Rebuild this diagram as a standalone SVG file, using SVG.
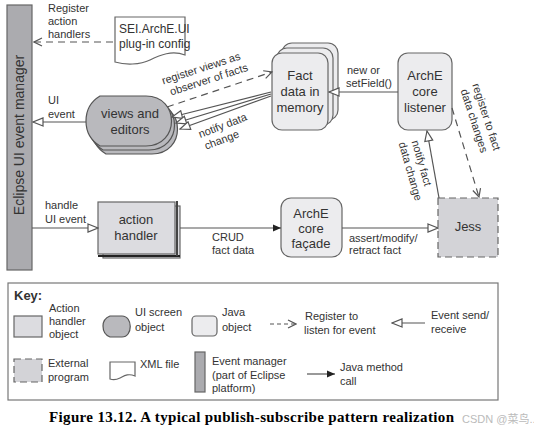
<svg xmlns="http://www.w3.org/2000/svg" width="534" height="435" viewBox="0 0 534 435">
<defs>
<style>
text{font-family:"Liberation Sans",Arial,sans-serif;fill:#333;}
.lbl{font-size:11px;}
.node{font-size:13px;text-anchor:middle;}
.key{font-size:11px;}
.ln{stroke:#555;stroke-width:1.2;fill:none;}
.dash{stroke:#555;stroke-width:1.2;fill:none;stroke-dasharray:7,5;}
.bar{fill:#ababaf;stroke:#666;stroke-width:1.2;}
.java{fill:#ececee;stroke:#666;stroke-width:1.2;}
.act{fill:#dcdce0;stroke:#666;stroke-width:1.2;}
.ui{fill:#b9b9bd;stroke:#555;stroke-width:1.2;}
.ext{fill:#d3d3d7;stroke:#666;stroke-width:1.2;stroke-dasharray:7,4;}
</style>
<marker id="tri" markerWidth="12" markerHeight="10" refX="11" refY="5" orient="auto" markerUnits="userSpaceOnUse">
<path d="M1,1 L11,5 L1,9 Z" fill="#fff" stroke="#555" stroke-width="1.2"/>
</marker>
<marker id="chev" markerWidth="10" markerHeight="10" refX="9" refY="5" orient="auto" markerUnits="userSpaceOnUse">
<path d="M1,1 L9,5 L1,9" fill="none" stroke="#555" stroke-width="1.2"/>
</marker>
<marker id="fill" markerWidth="10" markerHeight="8" refX="9" refY="4" orient="auto" markerUnits="userSpaceOnUse">
<path d="M1,0.5 L9,4 L1,7.5 Z" fill="#222"/>
</marker>
</defs>
<rect width="534" height="435" fill="#fff"/>

<g id="eventManager">
<rect class="bar" x="7" y="5" width="25" height="265"/>
<text class="node" transform="translate(24,135) rotate(-90)" style="font-size:14px">Eclipse UI event manager</text>
</g>

<g id="xmlConfig">
<path class="java" style="fill:#fff" d="M115,17 H185 V55 C172,50 160,55 150,60 C140,65 125,65 115,62 Z"/>
<text class="lbl" x="119" y="33" style="font-size:12px">SEI.ArchE.UI</text>
<text class="lbl" x="119" y="48" style="font-size:12px">plug-in config</text>
</g>

<g id="viewsEditors">
<path class="ui" transform="translate(6,8)" d="M100,96 H146 C180,96 180,146 146,146 H100 C90,140 86,130 86,121 C86,112 90,102 100,96 Z"/>
<path class="ui" transform="translate(3,4)" d="M100,96 H146 C180,96 180,146 146,146 H100 C90,140 86,130 86,121 C86,112 90,102 100,96 Z"/>
<path class="ui" d="M100,96 H146 C180,96 180,146 146,146 H100 C90,140 86,130 86,121 C86,112 90,102 100,96 Z"/>
<text class="node" x="130" y="118">views and</text>
<text class="node" x="130" y="134">editors</text>
</g>

<g id="factData">
<rect class="java" x="282" y="43" width="56" height="77" rx="10"/>
<rect class="java" x="277" y="48" width="56" height="77" rx="10"/>
<rect class="java" x="272" y="53" width="56" height="77" rx="10"/>
<text class="node" x="300" y="80">Fact</text>
<text class="node" x="300" y="96">data in</text>
<text class="node" x="300" y="112">memory</text>
</g>

<g id="coreListener">
<rect class="java" x="398" y="53" width="54" height="77" rx="10"/>
<text class="node" x="425" y="80">ArchE</text>
<text class="node" x="425" y="96">core</text>
<text class="node" x="425" y="112">listener</text>
</g>

<g id="actionHandler">
<rect class="act" x="103" y="206" width="77" height="52"/>
<rect class="act" x="98" y="202" width="77" height="52"/>
<path d="M98,256 H180" stroke="#222" stroke-width="2.2"/>
<path d="M177,201 V256" stroke="#444" stroke-width="2"/>
<text class="node" x="136" y="224">action</text>
<text class="node" x="136" y="240">handler</text>
</g>

<g id="coreFacade">
<rect class="java" x="281" y="198" width="61" height="59" rx="10"/>
<text class="node" x="311" y="218">ArchE</text>
<text class="node" x="311" y="233">core</text>
<text class="node" x="311" y="248">façade</text>
</g>

<g id="jess">
<rect class="ext" x="438" y="198" width="60" height="59"/>
<text class="node" x="468" y="231">Jess</text>
</g>

<g id="connectors">
<line class="dash" x1="113" y1="42" x2="34" y2="42" marker-end="url(#chev)"/>
<line class="ln" x1="86" y1="122" x2="33" y2="122" marker-end="url(#tri)"/>
<line class="ln" x1="32" y1="228" x2="98" y2="228" marker-end="url(#tri)"/>
<line class="ln" x1="180" y1="228" x2="281" y2="228" marker-end="url(#fill)"/>
<line class="ln" x1="342" y1="228" x2="438" y2="228" marker-end="url(#tri)"/>
<line class="ln" x1="398" y1="92" x2="329" y2="92" marker-end="url(#tri)"/>
<line class="dash" x1="167" y1="107" x2="272" y2="72" marker-end="url(#chev)"/>
<line class="ln" x1="271" y1="92" x2="172" y2="117" marker-end="url(#tri)"/>
<line class="ln" x1="271" y1="94" x2="176" y2="123" marker-end="url(#tri)"/>
<line class="ln" x1="271" y1="96" x2="180" y2="129" marker-end="url(#tri)"/>
<line class="ln" x1="439" y1="198" x2="427" y2="131" marker-end="url(#tri)"/>
<line class="dash" x1="452" y1="108" x2="479" y2="197" marker-end="url(#chev)"/>
</g>

<g id="labels">
<text class="lbl" x="48" y="12">Register</text>
<text class="lbl" x="48" y="25">action</text>
<text class="lbl" x="48" y="38">handlers</text>
<text class="lbl" x="48" y="104">UI</text>
<text class="lbl" x="48" y="118">event</text>
<text class="lbl" x="45" y="209">handle</text>
<text class="lbl" x="45" y="223">UI event</text>
<text class="lbl" x="212" y="241">CRUD</text>
<text class="lbl" x="212" y="254">fact data</text>
<text class="lbl" x="349" y="242">assert/modify/</text>
<text class="lbl" x="349" y="254">retract fact</text>
<text class="lbl" x="347" y="74">new or</text>
<text class="lbl" x="346" y="87">setField()</text>
<g transform="translate(210,83) rotate(-18)">
<text class="lbl" x="-4" y="-13" text-anchor="middle">register views as</text>
<text class="lbl" x="0" y="0" text-anchor="middle">observer of facts</text>
</g>
<g transform="translate(224,129) rotate(-21)">
<text class="lbl" x="0" y="0" text-anchor="middle">notify data</text>
<text class="lbl" x="-6" y="13" text-anchor="middle">change</text>
</g>
<g transform="translate(418,164) rotate(74)">
<text class="lbl" x="0" y="0" text-anchor="middle">notify fact</text>
<text class="lbl" x="5" y="13" text-anchor="middle">data change</text>
</g>
<g transform="translate(483,118) rotate(72)">
<text class="lbl" x="0" y="0" text-anchor="middle">register to fact</text>
<text class="lbl" x="0" y="13" text-anchor="middle">data changes</text>
</g>
</g>

<g id="key">
<rect x="8" y="283" width="490" height="117" fill="#fff" stroke="#777" stroke-width="1.2"/>
<text x="14" y="300" style="font-size:13px;font-weight:bold">Key:</text>
<rect class="act" x="14" y="316" width="28" height="21"/>
<text class="key" x="49" y="312">Action</text>
<text class="key" x="49" y="325">handler</text>
<text class="key" x="49" y="338">object</text>
<path class="ui" d="M110,316 H122 C133,316 133,337 122,337 H110 C105,335 103,330 103,326 C103,322 105,318 110,316 Z"/>
<text class="key" x="135" y="316">UI screen</text>
<text class="key" x="135" y="331">object</text>
<rect class="java" x="192" y="316" width="25" height="20" rx="4"/>
<text class="key" x="222" y="316">Java</text>
<text class="key" x="222" y="331">object</text>
<line class="ln" x1="270" y1="324" x2="296" y2="324" stroke-dasharray="4,3" marker-end="url(#chev)"/>
<text class="key" x="305" y="320">Register to</text>
<text class="key" x="304" y="334">listen for event</text>
<line class="ln" x1="425" y1="323" x2="392" y2="323" marker-end="url(#tri)"/>
<text class="key" x="431" y="319">Event send/</text>
<text class="key" x="431" y="333">receive</text>
<rect class="ext" x="14" y="359" width="28" height="23"/>
<text class="key" x="48" y="367">External</text>
<text class="key" x="48" y="381">program</text>
<path class="java" style="fill:#fff" d="M110,362 H135 V376 C128,373 124,376 120,378 C116,380 113,380 110,379 Z"/>
<text class="key" x="140" y="368">XML file</text>
<rect class="bar" x="195" y="352" width="10" height="40"/>
<text class="key" x="212" y="365">Event manager</text>
<text class="key" x="212" y="379">(part of Eclipse</text>
<text class="key" x="212" y="392">platform)</text>
<line class="ln" x1="307" y1="374" x2="335" y2="374" marker-end="url(#fill)"/>
<text class="key" x="340" y="371">Java method</text>
<text class="key" x="340" y="385">call</text>
</g>

<text x="49" y="422" style="font-family:'Liberation Serif','Times New Roman',serif;font-size:15px;font-weight:bold;fill:#000" textLength="405">Figure 13.12. A typical publish-subscribe pattern realization</text>
<text x="462" y="423" style="font-family:'Liberation Sans','Noto Sans CJK SC',sans-serif;font-size:11px;fill:#bbb">CSDN @菜鸟..</text>
</svg>
